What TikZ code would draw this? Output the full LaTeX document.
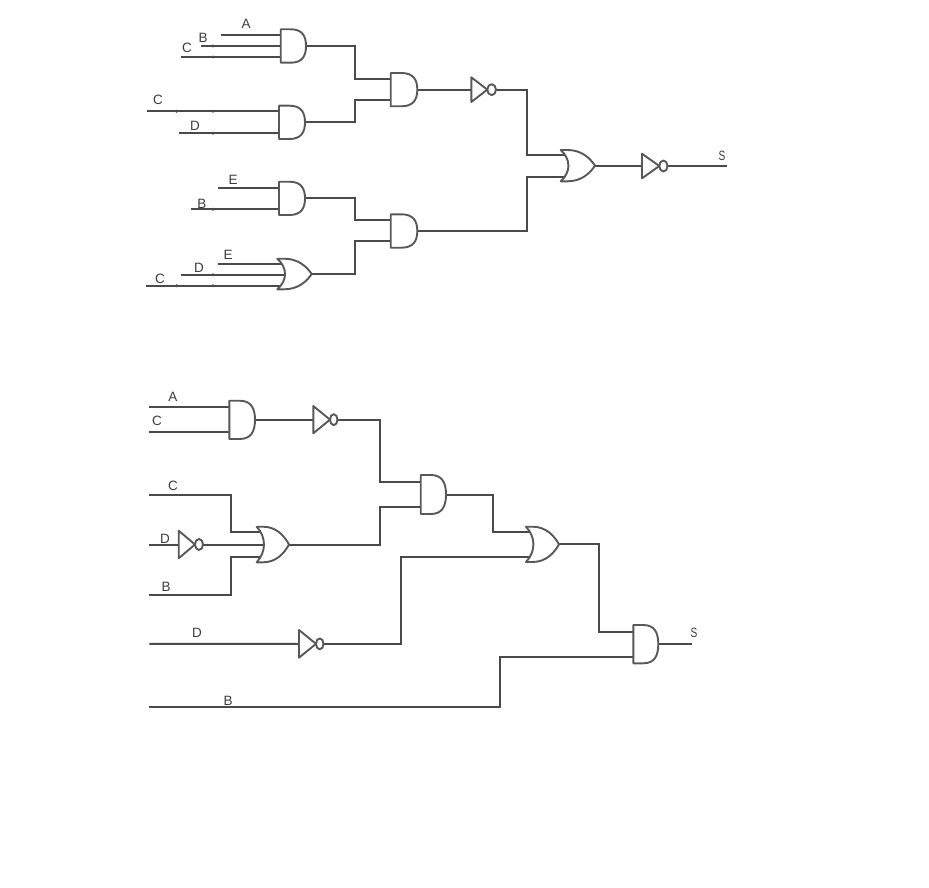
\documentclass[tikz,border=0pt]{standalone}
\usepackage{fontspec}
\setmainfont{Liberation Sans}
\usetikzlibrary{backgrounds}
\definecolor{ink}{HTML}{4A4A4A}
\definecolor{gateink}{HTML}{585858}
\definecolor{textink}{HTML}{3C3C3C}
\tikzset{
  gatebox/.style={inner sep=0pt,outer sep=0pt,minimum width=#1},
  gateline/.style={draw=gateink,line width=1.9pt,fill=white,line join=round},
  wire/.style={draw=ink,line width=2pt,line cap=butt,line join=miter},
  lab/.style={inner sep=0pt,text=textink,font=\fontsize{13.5}{13.5}\selectfont}
}
% name, left, top, right, bottom
\newcommand{\boxnode}[5]{\node[gatebox={(#4-#2)*1pt},minimum height={(#5-#3)*1pt}] (#1) at ({(#2+#4)/2},{(#3+#5)/2}) {};}
\newcommand{\andg}[5]{\boxnode{#1}{#2}{#3}{#4}{#5}
  \draw[gateline] (#2,#3) -- ({#2+.4*(#4-#2)},#3)
    .. controls ({#2+.85*(#4-#2)},#3) and (#4,{#3+.2*(#5-#3)}) .. (#4,{(#3+#5)/2})
    .. controls (#4,{#3+.8*(#5-#3)}) and ({#2+.85*(#4-#2)},#5) .. ({#2+.4*(#4-#2)},#5)
    -- (#2,#5) -- cycle;}
\newcommand{\org}[5]{\boxnode{#1}{#2}{#3}{#4}{#5}
  \draw[gateline] (#2,#3) -- ({#2+.2*(#4-#2)},#3)
    .. controls ({#2+.6*(#4-#2)},#3) and ({#2+.85*(#4-#2)},{#3+.25*(#5-#3)}) .. (#4,{(#3+#5)/2})
    .. controls ({#2+.85*(#4-#2)},{#3+.75*(#5-#3)}) and ({#2+.6*(#4-#2)},#5) .. ({#2+.2*(#4-#2)},#5)
    -- (#2,#5)
    .. controls ({#2+.3*(#4-#2)},{#3+.7*(#5-#3)}) and ({#2+.3*(#4-#2)},{#3+.3*(#5-#3)}) .. (#2,#3) -- cycle;}
% name, left, top, tip, bubble right, bottom
\newcommand{\invg}[6]{\boxnode{#1}{#2}{#3}{#5}{#6}
  \draw[gateline] (#2,#3) -- (#4,{(#3+#6)/2}) -- (#2,#6) -- cycle;
  \draw[gateline] ({(#4+#5)/2},{(#3+#6)/2}) ellipse ({(#5-#4)/2} and 5.5);}
\begin{document}
\begin{tikzpicture}[x=1pt,y=-1pt]
\useasboundingbox (0,0) rectangle (929,888);
% ---------- upper circuit: gates
\andg{gA}{280.7}{29.3}{306}{62.7}
\andg{gB}{279}{105.7}{305}{139}
\andg{gC}{390.7}{73}{417.3}{106.3}
\andg{gD}{279}{181.7}{305}{215}
\andg{gE}{390.7}{214.3}{417.3}{247.7}
\org{gF}{277.3}{258.7}{311.7}{289.3}
\invg{nA}{471.3}{77.3}{487.3}{496}{102}
\org{gG}{560.7}{150}{595}{181.3}
\invg{nB}{642}{153.7}{659.3}{667.5}{178.3}
% ---------- lower circuit: gates
\andg{gH}{229.3}{400.7}{255}{439}
\invg{nC}{313.3}{406}{330}{337.5}{433.3}
\andg{gI}{420.7}{475}{446}{514}
\invg{nD}{178.7}{530.7}{195}{203}{558.3}
\org{gJ}{256.7}{526.7}{289}{562.3}
\invg{nE}{299}{630}{316}{323.5}{657.7}
\org{gK}{526}{526.7}{559}{562}
\andg{gL}{633.3}{625}{658.3}{663.3}
% ---------- free ends and bends
\foreach \n/\x/\y in {
  a1/220.7/35, a2/201/46, a3/180.7/57, b1/146.7/111.3, b2/179/133.3,
  d1/217.7/187.7, d2/191.3/209.3, f1/217.7/264, f2/180.7/274.7, f3/145.7/285.7,
  j1/355/78.7, j2/355/100.3, j3/355/220, j4/355/241.3, j5/526.7/155, j6/526.7/177,
  sA/727.3/166,
  h1/149.3/407.3, h2/149.3/432.3, i1/149.3/494.7, i2/149.3/544.5, i3/149.3/594.7,
  k1/231.3/532.3, k2/231.3/557, m1/380/482, m2/380/507,
  e1/149.3/643.85, l1/401/557, p1/493.3/531.7, q1/599.3/632, r1/149.3/707, r2/500.3/657,
  sB/691.7/644.15}
  {\coordinate (\n) at (\x,\y);}
% ---------- labels
\node[lab] (tA1) at (246,24) {A};
\node[lab] (tB1) at (203,38) {B};
\node[lab] (tC1) at (187,48) {C};
\node[lab] (tC2) at (158,100) {C};
\node[lab] (tD1) at (195,126) {D};
\node[lab] (tE1) at (233,180) {E};
\node[lab] (tB2) at (202,203.5) {B};
\node[lab] (tE2) at (228,255) {E};
\node[lab] (tD2) at (199,268) {D};
\node[lab] (tC3) at (160,279) {C};
\node[lab,xscale=.75] (tS1) at (722,156) {S};
\node[lab] (tA2) at (173,397) {A};
\node[lab] (tC4) at (157,421) {C};
\node[lab] (tC5) at (173,486) {C};
\node[lab] (tD3) at (165,539) {D};
\node[lab] (tB3) at (166,587) {B};
\node[lab] (tD4) at (197,633) {D};
\node[lab] (tB4) at (228,701) {B};
\node[lab,xscale=.75] (tS2) at (694,633) {S};
% ---------- wires, behind the gates
\begin{scope}[on background layer]
\foreach \c/\g in {a1/gA,a2/gA,a3/gA,b1/gB,b2/gB,d1/gD,d2/gD,f1/gF,f2/gF,f3/gF,h1/gH,h2/gH}
  {\draw[wire] (\c) -- (\c -| \g.center);}
\draw[wire] (gA.east) -| (j1) -- (j1 -| gC.center);
\draw[wire] (gB.east) -| (j2) -- (j2 -| gC.center);
\draw[wire] (gD.east) -| (j3) -- (j3 -| gE.center);
\draw[wire] (gF.east) -| (j4) -- (j4 -| gE.center);
\draw[wire] (gC.east) -- (nA.west);
\draw[wire] (nA.east) -| (j5) -- (j5 -| gG.center);
\draw[wire] (gE.east) -| (j6) -- (j6 -| gG.center);
\draw[wire] (gG.east) -- (gG.east -| nB.west);
\draw[wire] (nB.east) -- (nB.east -| sA);
\draw[wire] (gH.east) -- (gH.east -| nC.west);
\draw[wire] (nC.east) -| (m1) -- (m1 -| gI.center);
\draw[wire] (i1) -| (k1) -- (k1 -| gJ.center);
\draw[wire] (i2) -- (i2 -| nD.west);
\draw[wire] (nD.east) -- (nD.east -| gJ.center);
\draw[wire] (i3) -| (k2) -- (k2 -| gJ.center);
\draw[wire] (gJ.east) -| (m2) -- (m2 -| gI.center);
\draw[wire] (gI.east) -| (p1) -- (p1 -| gK.center);
\draw[wire] (e1) -- (nE.west);
\draw[wire] (nE.east) -| (l1) -- (l1 -| gK.center);
\draw[wire] (gK.east) -| (q1) -- (q1 -| gL.center);
\draw[wire] (r1) -| (r2) -- (r2 -| gL.center);
\draw[wire] (gL.east) -- (gL.east -| sB);
\end{scope}
% ---------- small joints on the input wires
\foreach \p in {(213,46),(213,57),(213,111.3),(176.5,111.3),(213,133.3),(213,209.3),(213,274.7),(213,285.7),(176.5,285.7)}
  {\fill[ink] \p circle (1.6);}
\end{tikzpicture}
\end{document}
